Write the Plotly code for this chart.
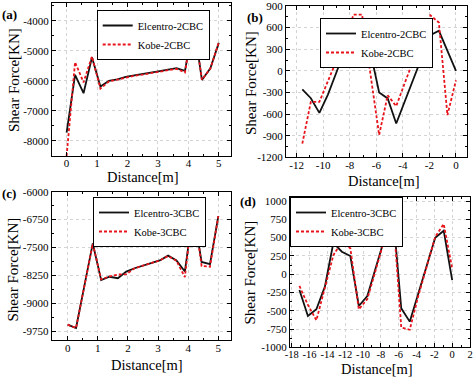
import plotly.graph_objects as go

# ---------------- data ----------------
x_a = [0, 0.278, 0.556, 0.833, 1.111, 1.389, 1.667, 1.944, 2.222, 2.5, 2.778, 3.056, 3.333, 3.611, 3.889, 4.167, 4.444, 4.722, 5.0]
a_elcentro = [-7720, -5800, -6410, -5215, -6190, -6000, -5950, -5870, -5820, -5780, -5730, -5680, -5630, -5580, -5670, -4030, -5970, -5580, -4730]
a_kobe = [-8500, -5380, -6050, -5190, -6260, -6020, -5960, -5890, -5830, -5790, -5740, -5690, -5640, -5600, -5720, -4000, -5960, -5590, -4720]

x_b = [-11.571, -10.929, -10.286, -9.643, -9.0, -8.357, -7.714, -7.071, -6.429, -5.786, -5.143, -4.5, -3.857, -3.214, -2.571, -1.929, -1.286, -0.643, 0]
b_elcentro = [-258, -380, -583, -330, -20, 300, 600, 600, 250, -300, -383, -731, -430, -120, 190, 496, 556, 280, 0]
b_kobe = [-1010, -430, -430, -150, 130, 430, 780, 780, -60, -890, -340, -490, -170, 150, 460, 770, 670, -615, -130]

x_c = [0, 0.278, 0.556, 0.833, 1.111, 1.389, 1.667, 1.944, 2.222, 2.5, 2.778, 3.056, 3.333, 3.611, 3.889, 4.167, 4.444, 4.722, 5.0]
c_elcentro = [-9580, -9670, -8530, -7390, -8380, -8290, -8330, -8150, -8060, -7990, -7930, -7850, -7720, -7850, -8150, -6500, -7890, -7950, -6660]
c_kobe = [-9580, -9670, -8530, -7400, -8360, -8280, -8230, -8220, -8060, -7990, -7930, -7850, -7730, -7860, -8300, -6330, -8000, -8020, -6660]

x_d = [-17.143, -16.190, -15.238, -14.286, -13.333, -12.381, -11.429, -10.476, -9.524, -8.571, -7.619, -6.667, -5.714, -4.762, -3.810, -2.857, -1.905, -0.952, 0]
d_elcentro = [-216, -571, -480, -171, 430, 308, 249, -435, -298, 90, 480, 868, -467, -649, -267, 116, 499, 595, -80]
d_kobe = [-161, -420, -630, -200, 260, 444, 354, -480, -340, 60, 470, 885, -730, -760, -300, 100, 510, 686, 80]

# tick values (labels use a plain hyphen like the original)
a_xticks = [0, 1, 2, 3, 4, 5]
a_yticks = [-8000, -7000, -6000, -5000, -4000]
b_xticks = [-12, -10, -8, -6, -4, -2, 0]
b_yticks = [-1200, -900, -600, -300, 0, 300, 600, 900]
c_xticks = [0, 1, 2, 3, 4, 5]
c_yticks = [-9750, -9000, -8250, -7500, -6750, -6000]
d_xticks = [-18, -16, -14, -12, -10, -8, -6, -4, -2, 0, 2]
d_yticks = [-1000, -750, -500, -250, 0, 250, 500, 750, 1000]

names = [("Elcentro-2CBC", "Kobe-2CBC"), ("Elcentro-2CBC", "Kobe-2CBC"),
         ("Elcentro-3CBC", "Kobe-3CBC"), ("Elcentro-3CBC", "Kobe-3CBC")]
panel_labels = ["(a)", "(b)", "(c)", "(d)"]
x_title = "Distance[m]"
y_title = "Shear Force[KN]"

# ---------------- styling ----------------
W, H = 474, 377
FONT = "Liberation Serif"
BLACK = "#111111"
RED = "#e8141c"

def px(v):  # horizontal pixel -> paper
    return v / W

def py(v):  # vertical pixel (from top) -> paper
    return 1 - v / H

fig = go.Figure()

datasets = [(x_a, a_elcentro, a_kobe), (x_b, b_elcentro, b_kobe),
            (x_c, c_elcentro, c_kobe), (x_d, d_elcentro, d_kobe)]
for i, (xs, e, k) in enumerate(datasets):
    sfx = "" if i == 0 else str(i + 1)
    leg = "legend" if i == 0 else "legend" + str(i + 1)
    fig.add_trace(go.Scatter(x=xs, y=e, mode="lines", name=names[i][0],
                             line=dict(color=BLACK, width=1.8),
                             xaxis="x" + sfx, yaxis="y" + sfx, legend=leg))
    fig.add_trace(go.Scatter(x=xs, y=k, mode="lines", name=names[i][1],
                             line=dict(color=RED, width=1.8, dash="3px,2px"),
                             xaxis="x" + sfx, yaxis="y" + sfx, legend=leg))

# domains in pixels: (left, right, top, bottom)
doms = [(52, 231, 3, 156), (286, 467, 6, 157.3), (51.7, 231, 191.7, 340.3), (290, 470, 196.7, 347.3)]
xranges = [[-0.48, 5.4], [-12.8, 0.83], [-0.53, 5.42], [-18.2, 2]]
yranges = [[-8500, -3410], [-1200, 900], [-10000, -6000], [-1000, 1060]]
xticks = [a_xticks, b_xticks, c_xticks, d_xticks]
yticks = [a_yticks, b_yticks, c_yticks, d_yticks]
xdt = [1, 2, 1, 2]
ydt = [1000, 300, 750, 250]
xfs = [11, 11, 11, 10.5]

layout = dict(width=W, height=H, margin=dict(l=0, r=0, t=0, b=0, autoexpand=False),
              paper_bgcolor="white", plot_bgcolor="white",
              font=dict(family=FONT, color="black"), showlegend=True)

def axis_common():
    return dict(showline=True, linecolor="black", linewidth=1, mirror="ticks",
                ticks="inside", ticklen=4, tickwidth=1, tickcolor="black",
                showgrid=True, gridcolor="#d4d4d4", gridwidth=1, griddash="dot",
                zeroline=False, automargin=False, tickangle=0, tickmode="array",
                tickfont=dict(family=FONT, size=11, color="black"))

def minor(tick0, dt):
    return dict(tickmode="linear", tick0=tick0, dtick=dt / 2, ticks="inside",
                ticklen=2, tickcolor="black", showgrid=False)

for i in range(4):
    sfx = "" if i == 0 else str(i + 1)
    l, r, t, b = doms[i]
    xa = axis_common()
    xa.update(domain=[px(l), px(r)], range=xranges[i], anchor="y" + sfx,
              tickvals=xticks[i], ticktext=[str(v) for v in xticks[i]],
              tickfont=dict(family=FONT, size=xfs[i], color="black"),
              ticklabelstandoff=-3,
              minor=minor(xticks[i][0], xdt[i]))
    ya = axis_common()
    ya.update(domain=[py(b), py(t)], range=yranges[i], anchor="x" + sfx,
              tickvals=yticks[i], ticktext=[str(v) for v in yticks[i]],
              minor=minor(yticks[i][0], ydt[i]))
    layout["xaxis" + sfx] = xa
    layout["yaxis" + sfx] = ya

# legends
leg_pos = [(96.7, 10), (320, 18), (93, 197), (290, 197)]
for i, (lx, ly) in enumerate(leg_pos):
    key = "legend" if i == 0 else "legend" + str(i + 1)
    layout[key] = dict(x=px(lx), y=py(ly), xanchor="left", yanchor="top",
                       bgcolor="white", bordercolor="black", borderwidth=1,
                       font=dict(family=FONT, size=10.5, color="black"),
                       tracegroupgap=0, itemwidth=30)

fig.update_layout(**layout)

# axis titles and panel labels as annotations
ytitle_pos = [(14, 80), (251, 83), (12.5, 270), (249.5, 272)]
xtitle_pos = [(143, 177), (384, 181), (147, 365), (377, 368.5)]
plab_pos = [(9, 15), (255, 17), (9, 193), (248, 201)]
for i in range(4):
    fig.add_annotation(text=y_title, x=px(ytitle_pos[i][0]), y=py(ytitle_pos[i][1]),
                       xref="paper", yref="paper", showarrow=False, textangle=-90,
                       font=dict(family=FONT, size=15, color="black"),
                       xanchor="center", yanchor="middle")
    fig.add_annotation(text=x_title, x=px(xtitle_pos[i][0]), y=py(xtitle_pos[i][1]),
                       xref="paper", yref="paper", showarrow=False,
                       font=dict(family=FONT, size=14.5, color="black"),
                       xanchor="center", yanchor="middle")
    fig.add_annotation(text="<b>" + panel_labels[i] + "</b>", x=px(plab_pos[i][0]), y=py(plab_pos[i][1]),
                       xref="paper", yref="paper", showarrow=False,
                       font=dict(family=FONT, size=13, color="black"),
                       xanchor="center", yanchor="middle")

fig.write_html("out.html", config={"displayModeBar": False},
               post_script="document.body.style.margin='0px';")
